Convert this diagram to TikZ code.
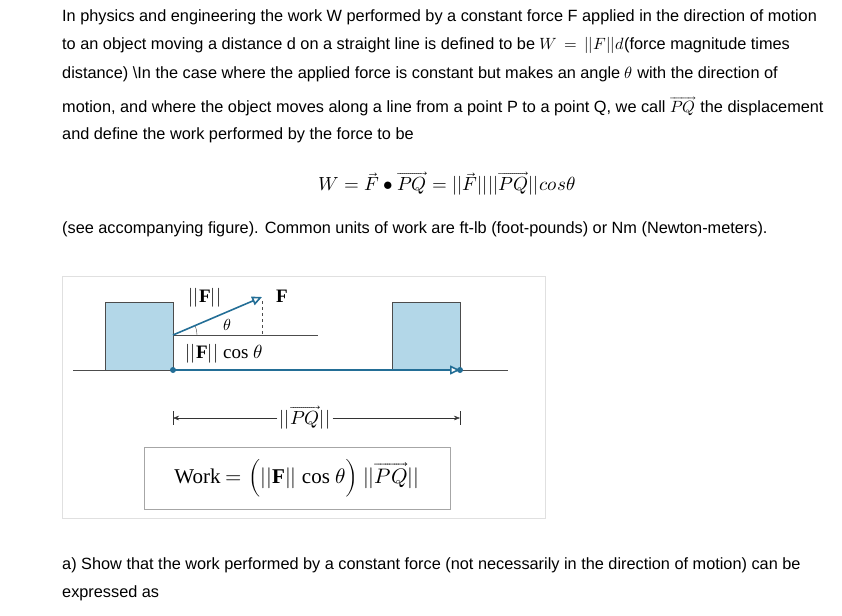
\documentclass[tikz,border=0pt]{standalone}
\usepackage{fontspec}
\usepackage{unicode-math}
\setmainfont{Liberation Sans}
\setmathfont{Latin Modern Math}
\newfontfamily\figfont{Liberation Serif}
\usetikzlibrary{arrows.meta,calc}
\definecolor{boxblue}{RGB}{179,215,232}
\definecolor{vecblue}{RGB}{35,110,150}
\newcommand{\bF}{\textbf{\figfont F}}
\tikzset{
 body/.style={anchor=west,font=\fontsize{16.3}{19}\selectfont,inner sep=0},
 blk/.style={draw=black!70,fill=boxblue,line width=0.8pt},
 flab/.style={font=\figfont\fontsize{19}{22}\selectfont,inner sep=1pt},
 vec/.style={draw=vecblue,line width=1.6pt,-{Triangle[open,fill=white,length=10pt,width=9pt]}},
}
\begin{document}
\begin{tikzpicture}[x=1pt,y=-1pt]
\useasboundingbox (0,0) rectangle (842,615);
\node[body] (t1) at (62,17) {In physics and engineering the work W performed by a constant force F applied in the direction of motion};
\node[body] (t2) at (62,45) {to an object moving a distance d on a straight line is defined to be $W\,=\,||F||d$(force magnitude times};
\node[body] (t3) at (62,74) {distance) \textbackslash In the case where the applied force is constant but makes an angle $\theta$ with the direction of};
\node[body] (t4) at (62,106) {motion, and where the object moves along a line from a point P to a point Q, we call $\overrightarrow{PQ}$ the displacement};
\node[body] (t5) at (62,135) {and define the work performed by the force to be};
\node[body,anchor=center,font=\fontsize{19}{22}\selectfont] (eq) at (447,184) {$W=\vec{F}\bullet\overrightarrow{PQ}=||\vec{F}||||\overrightarrow{PQ}||cos\theta$};
\node[body] (t6) at (62,229) {(see accompanying figure). Common units of work are ft-lb (foot-pounds) or Nm (Newton-meters).};
\node[body] (t7) at (62,565) {a) Show that the work performed by a constant force (not necessarily in the direction of motion) can be};
\node[body] (t8) at (62,593) {expressed as};
% figure frame
\draw[black!12,line width=0.8pt] (62,276) rectangle (545,518);
\draw[black!70,line width=0.8pt] (73,370) -- (508,370);
\draw[blk] (105,370) rectangle (173,302);
\draw[blk] (392,370) rectangle (460,302);
\coordinate (P) at (173,370);
\coordinate (Q) at (460,370);
\coordinate (O) at (173,335);
\coordinate (Ft) at (262,297);
\draw[black!70,line width=0.8pt] (O) -- (318,335);
\draw[black!70,dashed] (262,301) -- (262,335);
\draw[black!70] ($(O)+(24,0)$) arc (0:-23:24);
\draw[vec] (P) -- (Q);
\fill[vecblue] (P) circle (3pt) (Q) circle (3pt);
\draw[vec] (O) -- (Ft);
\node[flab] (nF) at (205,298) {$||$\bF$||$};
\node[flab] (F) at (282,296) {\bF};
\node[flab,font=\fontsize{16}{18}\selectfont] (th) at (227,325) {$\theta$};
\node[flab] (fc) at (224,354) {$||$\bF$||$ cos $\theta$};
\node[flab,fill=white,inner sep=2pt] (pq) at (305,418) {$||\overrightarrow{PQ}||$};
\coordinate (dl) at (173,418);
\coordinate (dr) at (460,418);
\draw[black!80,-{Stealth[length=6pt]}] (pq.west) -- (dl);
\draw[black!80,-{Stealth[length=6pt]}] (pq.east) -- (dr);
\draw[black!80] (173,411) -- (173,425) (460,411) -- (460,425);
\node[draw=black!35,line width=0.8pt,minimum width=306pt,minimum height=62pt,font=\figfont\fontsize{21}{24}\selectfont] (work) at (297,478) {Work $=\Bigl(||$\bF$||$ cos $\theta\Bigr)\ ||\overrightarrow{PQ}||$};
\end{tikzpicture}
\end{document}
